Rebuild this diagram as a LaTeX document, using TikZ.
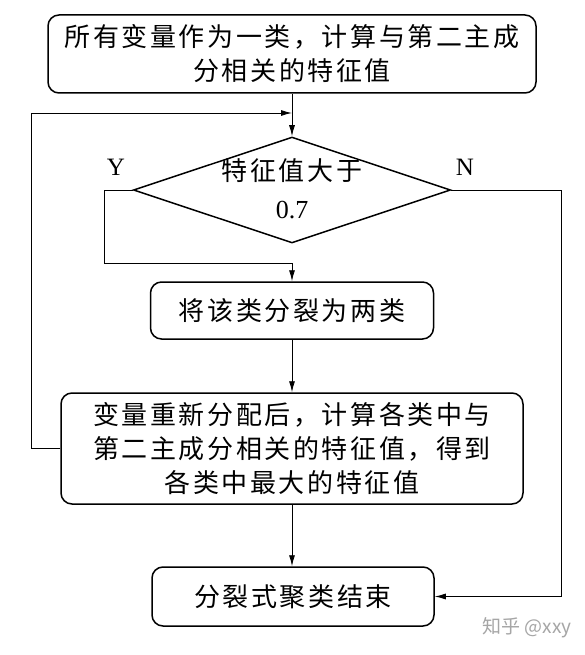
\documentclass[tikz,border=0pt]{standalone}
\usepackage{fontspec}
\setmainfont{Liberation Serif}
\newfontfamily\cjk[LetterSpace=10]{Noto Sans CJK SC}
\newfontfamily\cjkplain{Noto Sans CJK SC}
\usetikzlibrary{shapes.geometric,arrows.meta}
\tikzset{
  procbox/.style={draw, line width=1.5pt, rounded corners=11pt, align=center,
    inner sep=0pt, font=\cjk\fontsize{26}{34}\selectfont},
  decbox/.style={draw, diamond, line width=1.5pt, inner sep=0pt},
  dectext/.style={align=center, inner sep=0pt, font=\cjk\fontsize{26}{38}\selectfont},
  yn/.style={font=\fontsize{25}{25}\selectfont, inner sep=0pt},
  arr/.style={line width=0.9pt, -{Latex[length=11pt,width=6pt]}},
  wmark/.style={text=black!35, inner sep=0pt, font=\cjkplain\fontsize{19}{19}\selectfont}
}
\begin{document}
\begin{tikzpicture}[x=1pt,y=-1pt]
\useasboundingbox[fill=white] (0,0) rectangle (585,655);
\node[procbox, minimum width=488pt, minimum height=78pt] (b1) at (292,54)
  {所有变量作为一类，计算与第二主成\\分相关的特征值};
\node[decbox, minimum width=317pt, minimum height=106pt] (d) at (292,190) {};
\node[dectext] (dt) at (292,189) {特征值大于\\\fontspec{Liberation Serif}0.7};
\node[procbox, minimum width=283pt, minimum height=57pt] (b2) at (292,310.5)
  {将该类分裂为两类};
\node[procbox, minimum width=462pt, minimum height=111pt] (b3) at (292,448.5)
  {变量重新分配后，计算各类中与\\第二主成分相关的特征值，得到\\各类中最大的特征值};
\node[procbox, minimum width=282pt, minimum height=59pt] (b4) at (293,596.5)
  {分裂式聚类结束};
\node[yn] (ylab) at (116,167) {Y};
\node[yn] (nlab) at (465,167) {N};
\node[wmark] (wm) at (527,628) {知乎 @xxy};
\coordinate (lc) at (31,113);
\coordinate (lt) at (292,113);
\coordinate (yc) at (104,263);
\coordinate (nc) at (561,190);
\draw[arr] (b1.south) -- (d.north);
\draw[arr] (b3.west) -| (lc) -- (lt);
\draw[arr] (d.west) -| (yc) -| (b2.north);
\draw[arr] (b2.south) -- (b3.north);
\draw[arr] (b3.south) -- (b3.south |- b4.north);
\draw[arr] (d.east) -- (nc) |- (b4.east);
\end{tikzpicture}
\end{document}
